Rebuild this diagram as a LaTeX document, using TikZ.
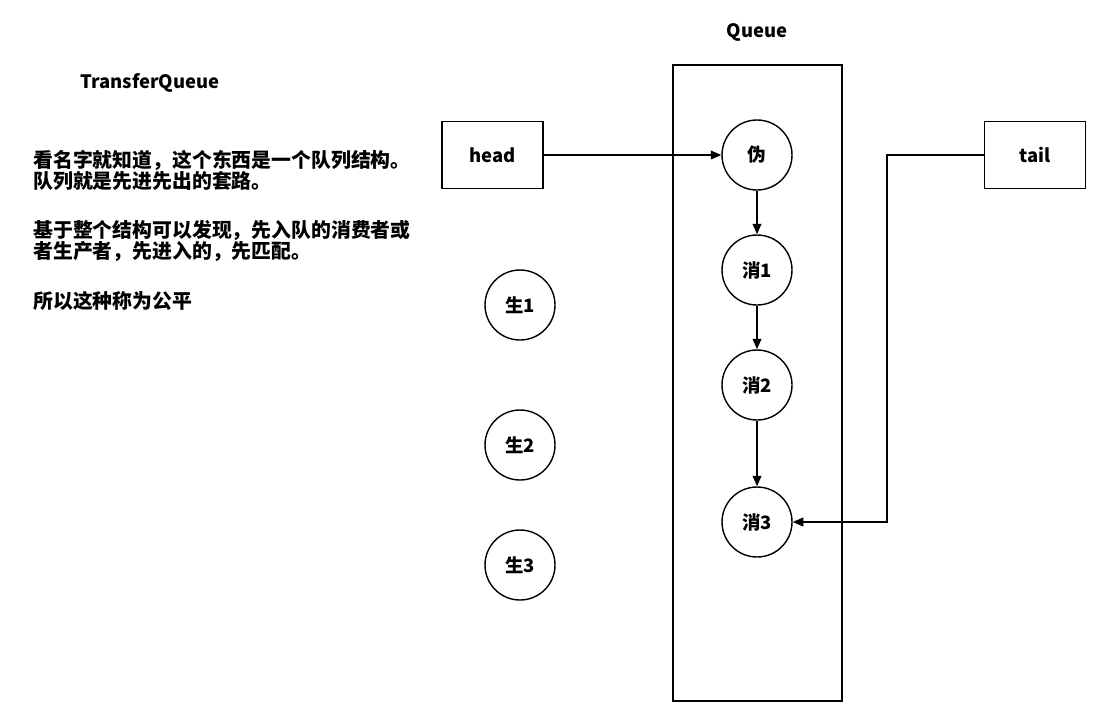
\documentclass[tikz,border=0pt]{standalone}
\usepackage{fontspec}
\setmainfont{Noto Sans CJK SC}
\usetikzlibrary{arrows.meta}
\begin{document}
\begin{tikzpicture}[x=0.02cm,y=-0.02cm,
  every node/.style={font=\fontsize{10.5}{12}\selectfont\bfseries},
  box/.style={draw,thick,minimum width=101*0.02cm,minimum height=67*0.02cm},
  circ/.style={draw,thick,circle,minimum size=70*0.02cm,inner sep=0},
  arr/.style={thick,-{Triangle[length=6pt,width=5pt]}}]
\useasboundingbox (0,0) rectangle (1114,724);
\node (ql) at (757,32) {Queue};
\node[draw,thick,minimum width=169*0.02cm,minimum height=636*0.02cm] (q) at (757.5,383) {};
\node[box] (head) at (492.5,155) {head};
\node[box] (tail) at (1035,155) {tail};
\node[circ] (w) at (757,155) {伪};
\node[circ] (x1) at (757,270) {消1};
\node[circ] (x2) at (757,385) {消2};
\node[circ] (x3) at (757,522) {消3};
\node[circ] (s1) at (520,305) {生1};
\node[circ] (s2) at (520,445) {生2};
\node[circ] (s3) at (520,565) {生3};
\draw[arr] (head) -- (w);
\draw[arr] (w) -- (x1);
\draw[arr] (x1) -- (x2);
\draw[arr] (x2) -- (x3);
\coordinate (c1) at (887,155);
\coordinate (c2) at (887,522);
\draw[arr] (tail.west) -- (c1) -- (c2) -- (x3);
\node (tq) at (150,83) {TransferQueue};
\node[anchor=north west,align=left,inner sep=0,font=\fontsize{11.3}{12}\selectfont\bfseries] (txt) at (33,150) {看名字就知道，这个东西是一个队列结构。\\队列就是先进先出的套路。\\[16pt]基于整个结构可以发现，先入队的消费者或\\者生产者，先进入的，先匹配。\\[16pt]所以这种称为公平};
\end{tikzpicture}
\end{document}
